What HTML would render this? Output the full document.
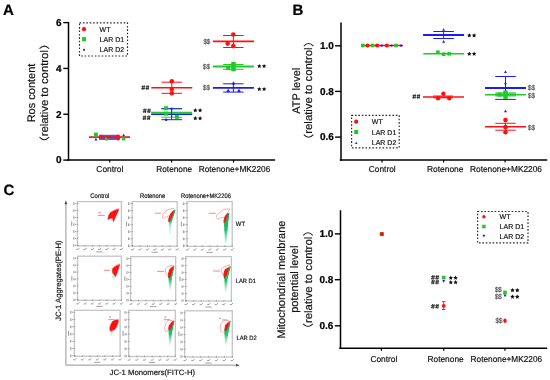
<!DOCTYPE html>
<html><head><meta charset="utf-8"><style>
html,body{margin:0;padding:0;background:#fff;width:550px;height:380px;overflow:hidden}
svg{display:block;font-family:"Liberation Sans",sans-serif;filter:blur(0.3px);text-rendering:geometricPrecision}
</style></head><body>
<svg width="550" height="380" viewBox="0 0 550 380">
<rect width="550" height="380" fill="#fff"/>
<text x="3" y="15.1" font-size="15" text-anchor="start" font-weight="700" fill="#000" stroke="#000" stroke-width="0.23399999999999999" >A</text>
<line x1="68.5" y1="22" x2="68.5" y2="160.7" stroke="#000" stroke-width="1.5" />
<line x1="67.8" y1="160.1" x2="274.5" y2="160.1" stroke="#000" stroke-width="1.5" stroke-linecap="round"/>
<line x1="63.3" y1="22.6" x2="68.5" y2="22.6" stroke="#000" stroke-width="1.4" />
<text x="61.5" y="25.950000000000003" font-size="10" text-anchor="end" font-weight="700" fill="#000" stroke="#000" stroke-width="0.23399999999999999" >6</text>
<line x1="63.3" y1="68.43" x2="68.5" y2="68.43" stroke="#000" stroke-width="1.4" />
<text x="61.5" y="71.78" font-size="10" text-anchor="end" font-weight="700" fill="#000" stroke="#000" stroke-width="0.23399999999999999" >4</text>
<line x1="63.3" y1="114.25999999999999" x2="68.5" y2="114.25999999999999" stroke="#000" stroke-width="1.4" />
<text x="61.5" y="117.60999999999999" font-size="10" text-anchor="end" font-weight="700" fill="#000" stroke="#000" stroke-width="0.23399999999999999" >2</text>
<line x1="63.3" y1="160.09" x2="68.5" y2="160.09" stroke="#000" stroke-width="1.4" />
<text x="61.5" y="163.44" font-size="10" text-anchor="end" font-weight="700" fill="#000" stroke="#000" stroke-width="0.23399999999999999" >0</text>
<line x1="109.7" y1="160" x2="109.7" y2="162.6" stroke="#000" stroke-width="1.2" />
<line x1="171.6" y1="160" x2="171.6" y2="162.6" stroke="#000" stroke-width="1.2" />
<line x1="233.5" y1="160" x2="233.5" y2="162.6" stroke="#000" stroke-width="1.2" />
<text x="109.85" y="172.2" font-size="8.6" text-anchor="middle" font-weight="400" fill="#111" textLength="27" lengthAdjust="spacingAndGlyphs" stroke="#111" stroke-width="0.18" >Control</text>
<text x="174.2" y="172.2" font-size="8.6" text-anchor="middle" font-weight="400" fill="#111" textLength="35.9" lengthAdjust="spacingAndGlyphs" stroke="#111" stroke-width="0.18" >Rotenone</text>
<text x="234.5" y="172.2" font-size="8.6" text-anchor="middle" font-weight="400" fill="#111" textLength="71.6" lengthAdjust="spacingAndGlyphs" stroke="#111" stroke-width="0.18" >Rotenone+MK2206</text>
<g transform="translate(34.8,93) rotate(-90)">
<text x="0" y="0" font-size="11" text-anchor="middle" font-weight="400" fill="#111" stroke="#111" stroke-width="0.18" >Ros content</text>
</g>
<g transform="translate(47.9,93.2) rotate(-90)">
<text x="0" y="0" font-size="11" text-anchor="middle" font-weight="400" fill="#111" textLength="86.2" lengthAdjust="spacingAndGlyphs" stroke="#111" stroke-width="0.18" >relative to control</text>
</g>
<path d="M39.5,48.7 Q44.3,43.5 49.099999999999994,48.7 M39.5,137.2 Q44.3,142.4 49.099999999999994,137.2" fill="none" stroke="#222" stroke-width="1.05"/>
<rect x="79.5" y="22.9" width="48.0" height="33.1" fill="none" stroke="#2a2a2a" stroke-width="1.2" stroke-dasharray="1.6,1.8"/>
<circle cx="84" cy="29.2" r="2.1" fill="#ff1010"/>
<text x="99.6" y="31.7" font-size="7" text-anchor="start" font-weight="400" fill="#111" stroke="#111" stroke-width="0.18" >WT</text>
<rect x="82.0" y="37.2" width="4" height="4" fill="#20c828"/>
<text x="99.6" y="41.7" font-size="7" text-anchor="start" font-weight="400" fill="#111" stroke="#111" stroke-width="0.18" >LAR D1</text>
<circle cx="84" cy="49.8" r="1.1" fill="#1a1aff"/>
<text x="99.6" y="52.3" font-size="7" text-anchor="start" font-weight="400" fill="#111" stroke="#111" stroke-width="0.18" >LAR D2</text>
<rect x="99.5" y="135.2" width="17.5" height="4.2" fill="#6a4ad0" stroke="#5a3cc8" stroke-width="0.8"/>
<line x1="89" y1="137.1" x2="99.5" y2="137.1" stroke="#ff1010" stroke-width="1.7" />
<line x1="117" y1="137.1" x2="130" y2="137.1" stroke="#ff1010" stroke-width="1.7" />
<line x1="99.5" y1="137.1" x2="117" y2="137.1" stroke="#e01830" stroke-width="1.7" />
<rect x="93.9" y="132.6" width="4" height="4" fill="#20c828"/>
<polygon points="94.4,140.54999999999998 97.4,140.54999999999998 95.9,137.85" fill="#1a1aff"/>
<rect x="105.0" y="136.79999999999998" width="3.6" height="3.6" fill="#20c828"/>
<rect x="121.8" y="136.79999999999998" width="3.6" height="3.6" fill="#20c828"/>
<polygon points="122.1,136.35 125.1,136.35 123.6,133.65" fill="#1a1aff"/>
<circle cx="101.4" cy="136.8" r="2" fill="#ff1010"/>
<ellipse cx="118.2" cy="137.4" rx="2" ry="3" fill="#ff1010"/>
<circle cx="108" cy="137" r="1.5" fill="#ff1010"/>
<line x1="151.3" y1="87.8" x2="192.3" y2="87.8" stroke="#ff1010" stroke-width="1.6" />
<line x1="161.55" y1="82.2" x2="182.05" y2="82.2" stroke="#ff1010" stroke-width="1.0" />
<line x1="161.55" y1="93.3" x2="182.05" y2="93.3" stroke="#ff1010" stroke-width="1.0" />
<line x1="171.8" y1="82.2" x2="171.8" y2="93.3" stroke="#ff1010" stroke-width="1.0" />
<circle cx="171.8" cy="81.2" r="2.3" fill="#ff1010"/>
<circle cx="171.8" cy="89.1" r="2.3" fill="#ff1010"/>
<circle cx="171.8" cy="93.2" r="2.3" fill="#ff1010"/>
<path d="M141.50,86.70h3.5M141.30,88.50h3.5M142.90,85.40L142.30,89.80M144.40,85.40L143.80,89.80M145.70,86.70h3.5M145.50,88.50h3.5M147.10,85.40L146.50,89.80M148.60,85.40L148.00,89.80" stroke="#333" stroke-width="0.95" fill="none"/>
<line x1="151.2" y1="112.8" x2="192.2" y2="112.8" stroke="#20c828" stroke-width="2.0" />
<line x1="161.45" y1="108.7" x2="181.95" y2="108.7" stroke="#20c828" stroke-width="1.0" />
<line x1="161.45" y1="117.2" x2="181.95" y2="117.2" stroke="#20c828" stroke-width="1.0" />
<line x1="171.7" y1="108.7" x2="171.7" y2="117.2" stroke="#20c828" stroke-width="1.0" />
<line x1="151.2" y1="114.4" x2="192.2" y2="114.4" stroke="#1a1aff" stroke-width="1.3" />
<line x1="161.4" y1="108.7" x2="182" y2="108.7" stroke="#1a1aff" stroke-width="1.0" />
<line x1="161.4" y1="119.7" x2="182" y2="119.7" stroke="#1a1aff" stroke-width="1.0" />
<line x1="171.6" y1="108.7" x2="171.6" y2="119.7" stroke="#1a1aff" stroke-width="1.0" />
<rect x="164.1" y="106.2" width="4" height="4" fill="#20c828"/>
<rect x="164.1" y="111.7" width="4" height="4" fill="#20c828"/>
<rect x="174.9" y="114.9" width="4" height="4" fill="#20c828"/>
<circle cx="171.6" cy="108.7" r="1.1" fill="#1a1aff"/>
<circle cx="166.1" cy="119.7" r="1.3" fill="#1a1aff"/>
<path d="M143.00,109.90h3.5M142.80,111.70h3.5M144.40,108.60L143.80,113.00M145.90,108.60L145.30,113.00M147.20,109.90h3.5M147.00,111.70h3.5M148.60,108.60L148.00,113.00M150.10,108.60L149.50,113.00" stroke="#333" stroke-width="0.95" fill="none"/>
<path d="M142.70,116.90h3.5M142.50,118.70h3.5M144.10,115.60L143.50,120.00M145.60,115.60L145.00,120.00M146.90,116.90h3.5M146.70,118.70h3.5M148.30,115.60L147.70,120.00M149.80,115.60L149.20,120.00" stroke="#333" stroke-width="0.95" fill="none"/>
<polygon points="195.30,108.10 195.98,109.47 197.49,109.69 196.39,110.76 196.65,112.26 195.30,111.55 193.95,112.26 194.21,110.76 193.11,109.69 194.62,109.47" fill="#111"/>
<polygon points="200.10,108.10 200.78,109.47 202.29,109.69 201.19,110.76 201.45,112.26 200.10,111.55 198.75,112.26 199.01,110.76 197.91,109.69 199.42,109.47" fill="#111"/>
<polygon points="195.30,116.10 195.98,117.47 197.49,117.69 196.39,118.76 196.65,120.26 195.30,119.55 193.95,120.26 194.21,118.76 193.11,117.69 194.62,117.47" fill="#111"/>
<polygon points="200.10,116.10 200.78,117.47 202.29,117.69 201.19,118.76 201.45,120.26 200.10,119.55 198.75,120.26 199.01,118.76 197.91,117.69 199.42,117.47" fill="#111"/>
<line x1="212.9" y1="41.4" x2="253.9" y2="41.4" stroke="#ff1010" stroke-width="1.6" />
<line x1="223.15" y1="35.5" x2="243.65" y2="35.5" stroke="#ff1010" stroke-width="1.0" />
<line x1="223.15" y1="47.5" x2="243.65" y2="47.5" stroke="#ff1010" stroke-width="1.0" />
<line x1="233.4" y1="35.5" x2="233.4" y2="47.5" stroke="#ff1010" stroke-width="1.0" />
<circle cx="233.3" cy="34.5" r="2.3" fill="#ff1010"/>
<circle cx="227.7" cy="43.6" r="2.3" fill="#ff1010"/>
<circle cx="233.3" cy="46.1" r="2.3" fill="#ff1010"/>
<text x="203.4" y="43.8" font-size="7" text-anchor="start" font-weight="400" fill="#444" textLength="6.9" lengthAdjust="spacingAndGlyphs" stroke="#444" stroke-width="0.18" >$$</text>
<line x1="212.9" y1="66.6" x2="253.9" y2="66.6" stroke="#20c828" stroke-width="2.0" />
<line x1="223.15" y1="64.5" x2="243.65" y2="64.5" stroke="#20c828" stroke-width="1.0" />
<line x1="223.15" y1="69.3" x2="243.65" y2="69.3" stroke="#20c828" stroke-width="1.0" />
<line x1="233.4" y1="64.5" x2="233.4" y2="69.3" stroke="#20c828" stroke-width="1.0" />
<rect x="226.2" y="65.8" width="4" height="4" fill="#20c828"/>
<rect x="231.25" y="61.95" width="4.5" height="4.5" fill="#20c828"/>
<rect x="231.25" y="66.75" width="4.5" height="4.5" fill="#20c828"/>
<text x="203" y="69.0" font-size="7" text-anchor="start" font-weight="400" fill="#444" textLength="6.9" lengthAdjust="spacingAndGlyphs" stroke="#444" stroke-width="0.18" >$$</text>
<polygon points="259.30,63.90 259.98,65.27 261.49,65.49 260.39,66.56 260.65,68.06 259.30,67.35 257.95,68.06 258.21,66.56 257.11,65.49 258.62,65.27" fill="#111"/>
<polygon points="264.10,63.90 264.78,65.27 266.29,65.49 265.19,66.56 265.45,68.06 264.10,67.35 262.75,68.06 263.01,66.56 261.91,65.49 263.42,65.27" fill="#111"/>
<line x1="212.9" y1="87.9" x2="253.9" y2="87.9" stroke="#1a1aff" stroke-width="1.8" />
<line x1="223.15" y1="83.8" x2="243.65" y2="83.8" stroke="#1a1aff" stroke-width="1.0" />
<line x1="223.15" y1="92.1" x2="243.65" y2="92.1" stroke="#1a1aff" stroke-width="1.0" />
<line x1="233.4" y1="83.8" x2="233.4" y2="92.1" stroke="#1a1aff" stroke-width="1.0" />
<polygon points="231.7,84.42 235.3,84.42 233.5,81.17999999999999" fill="#1a1aff"/>
<polygon points="226.29999999999998,92.11 230.1,92.11 228.2,88.69000000000001" fill="#1a1aff"/>
<polygon points="237.1,92.11 240.9,92.11 239,88.69000000000001" fill="#1a1aff"/>
<text x="203" y="90.30000000000001" font-size="7" text-anchor="start" font-weight="400" fill="#444" textLength="6.9" lengthAdjust="spacingAndGlyphs" stroke="#444" stroke-width="0.18" >$$</text>
<polygon points="259.30,86.90 259.98,88.27 261.49,88.49 260.39,89.56 260.65,91.06 259.30,90.35 257.95,91.06 258.21,89.56 257.11,88.49 258.62,88.27" fill="#111"/>
<polygon points="264.10,86.90 264.78,88.27 266.29,88.49 265.19,89.56 265.45,91.06 264.10,90.35 262.75,91.06 263.01,89.56 261.91,88.49 263.42,88.27" fill="#111"/>
<text x="292.6" y="15.1" font-size="15" text-anchor="start" font-weight="700" fill="#000" stroke="#000" stroke-width="0.23399999999999999" >B</text>
<line x1="341" y1="22.4" x2="341" y2="160.7" stroke="#000" stroke-width="1.5" />
<line x1="340.3" y1="159.9" x2="546.6" y2="159.9" stroke="#000" stroke-width="1.5" stroke-linecap="round"/>
<line x1="335.1" y1="45.8" x2="341" y2="45.8" stroke="#000" stroke-width="1.4" />
<text x="333.8" y="49.15" font-size="10" text-anchor="end" font-weight="700" fill="#000" stroke="#000" stroke-width="0.23399999999999999" >1.0</text>
<line x1="335.1" y1="91.4" x2="341" y2="91.4" stroke="#000" stroke-width="1.4" />
<text x="333.8" y="94.75" font-size="10" text-anchor="end" font-weight="700" fill="#000" stroke="#000" stroke-width="0.23399999999999999" >0.8</text>
<line x1="335.1" y1="137.1" x2="341" y2="137.1" stroke="#000" stroke-width="1.4" />
<text x="333.8" y="140.45" font-size="10" text-anchor="end" font-weight="700" fill="#000" stroke="#000" stroke-width="0.23399999999999999" >0.6</text>
<line x1="382" y1="160" x2="382" y2="162.6" stroke="#000" stroke-width="1.2" />
<line x1="443.6" y1="160" x2="443.6" y2="162.6" stroke="#000" stroke-width="1.2" />
<line x1="505.1" y1="160" x2="505.1" y2="162.6" stroke="#000" stroke-width="1.2" />
<text x="382.2" y="172.2" font-size="8.6" text-anchor="middle" font-weight="400" fill="#111" textLength="27" lengthAdjust="spacingAndGlyphs" stroke="#111" stroke-width="0.18" >Control</text>
<text x="445.2" y="172.2" font-size="8.6" text-anchor="middle" font-weight="400" fill="#111" textLength="36.5" lengthAdjust="spacingAndGlyphs" stroke="#111" stroke-width="0.18" >Rotenone</text>
<text x="506" y="172.2" font-size="8.6" text-anchor="middle" font-weight="400" fill="#111" textLength="72" lengthAdjust="spacingAndGlyphs" stroke="#111" stroke-width="0.18" >Rotenone+MK2206</text>
<g transform="translate(299.8,90.8) rotate(-90)">
<text x="0" y="0" font-size="11" text-anchor="middle" font-weight="400" fill="#111" stroke="#111" stroke-width="0.18" >ATP level</text>
</g>
<g transform="translate(312.2,90.6) rotate(-90)">
<text x="0" y="0" font-size="11" text-anchor="middle" font-weight="400" fill="#111" textLength="86.2" lengthAdjust="spacingAndGlyphs" stroke="#111" stroke-width="0.18" >relative to control</text>
</g>
<path d="M303.79999999999995,46.099999999999994 Q308.59999999999997,40.89999999999999 313.4,46.099999999999994 M303.79999999999995,134.6 Q308.59999999999997,139.8 313.4,134.6" fill="none" stroke="#222" stroke-width="1.05"/>
<rect x="351.6" y="115.3" width="47.599999999999966" height="32.500000000000014" fill="none" stroke="#2a2a2a" stroke-width="1.2" stroke-dasharray="1.6,1.8"/>
<circle cx="356.2" cy="121.7" r="2.1" fill="#ff1010"/>
<text x="371.8" y="124.2" font-size="7" text-anchor="start" font-weight="400" fill="#111" stroke="#111" stroke-width="0.18" >WT</text>
<rect x="354.2" y="130.0" width="4" height="4" fill="#20c828"/>
<text x="371.8" y="134.5" font-size="7" text-anchor="start" font-weight="400" fill="#111" stroke="#111" stroke-width="0.18" >LAR D1</text>
<polygon points="354.9,143.97 357.5,143.97 356.2,141.63000000000002" fill="#1a1aff"/>
<text x="371.8" y="145.3" font-size="7" text-anchor="start" font-weight="400" fill="#111" stroke="#111" stroke-width="0.18" >LAR D2</text>
<line x1="361" y1="45.5" x2="403" y2="45.5" stroke="#ff1010" stroke-width="1.5" />
<rect x="361.0" y="43.7" width="3.6" height="3.6" fill="#20c828"/>
<rect x="370.7" y="43.7" width="3.6" height="3.6" fill="#20c828"/>
<rect x="394.2" y="43.7" width="3.6" height="3.6" fill="#20c828"/>
<circle cx="367.5" cy="45.5" r="2.1" fill="#ff1010"/>
<circle cx="377.2" cy="45.5" r="2.1" fill="#ff1010"/>
<circle cx="386.8" cy="45.5" r="2.1" fill="#ff1010"/>
<circle cx="381.8" cy="45.6" r="1.2" fill="#1a1aff"/>
<circle cx="391.5" cy="45.6" r="1.2" fill="#1a1aff"/>
<circle cx="401" cy="45.6" r="1.2" fill="#1a1aff"/>
<line x1="423.1" y1="35" x2="464.1" y2="35" stroke="#1a1aff" stroke-width="2.0" />
<line x1="433.35" y1="31.5" x2="453.85" y2="31.5" stroke="#1a1aff" stroke-width="1.0" />
<line x1="433.35" y1="38.5" x2="453.85" y2="38.5" stroke="#1a1aff" stroke-width="1.0" />
<line x1="443.6" y1="31.5" x2="443.6" y2="38.5" stroke="#1a1aff" stroke-width="1.0" />
<polygon points="442.1,30.85 445.1,30.85 443.6,28.15" fill="#1a1aff"/>
<polygon points="442.1,42.75 445.1,42.75 443.6,40.05" fill="#1a1aff"/>
<polygon points="469.30,33.20 469.98,34.57 471.49,34.79 470.39,35.86 470.65,37.36 469.30,36.65 467.95,37.36 468.21,35.86 467.11,34.79 468.62,34.57" fill="#111"/>
<polygon points="474.10,33.20 474.78,34.57 476.29,34.79 475.19,35.86 475.45,37.36 474.10,36.65 472.75,37.36 473.01,35.86 471.91,34.79 473.42,34.57" fill="#111"/>
<line x1="423.3" y1="53.7" x2="464" y2="53.7" stroke="#20c828" stroke-width="1.5" />
<rect x="436.09999999999997" y="50.400000000000006" width="3.6" height="3.6" fill="#20c828"/>
<rect x="441.8" y="52.400000000000006" width="3.6" height="3.6" fill="#20c828"/>
<rect x="447.3" y="52.0" width="3.6" height="3.6" fill="#20c828"/>
<polygon points="469.30,51.60 469.98,52.97 471.49,53.19 470.39,54.26 470.65,55.76 469.30,55.05 467.95,55.76 468.21,54.26 467.11,53.19 468.62,52.97" fill="#111"/>
<polygon points="474.10,51.60 474.78,52.97 476.29,53.19 475.19,54.26 475.45,55.76 474.10,55.05 472.75,55.76 473.01,54.26 471.91,53.19 473.42,52.97" fill="#111"/>
<line x1="423" y1="96.9" x2="464" y2="96.9" stroke="#ff1010" stroke-width="1.5" />
<line x1="433" y1="96" x2="453" y2="96" stroke="#ff1010" stroke-width="1.0" />
<line x1="433" y1="97.8" x2="453" y2="97.8" stroke="#ff1010" stroke-width="1.0" />
<circle cx="438.1" cy="98.3" r="2.2" fill="#ff1010"/>
<circle cx="443.4" cy="93.8" r="2.2" fill="#ff1010"/>
<circle cx="449.3" cy="98.3" r="2.2" fill="#ff1010"/>
<path d="M412.50,95.60h3.5M412.30,97.40h3.5M413.90,94.30L413.30,98.70M415.40,94.30L414.80,98.70M416.70,95.60h3.5M416.50,97.40h3.5M418.10,94.30L417.50,98.70M419.60,94.30L419.00,98.70" stroke="#333" stroke-width="0.95" fill="none"/>
<line x1="485.0" y1="87.9" x2="526.0" y2="87.9" stroke="#1a1aff" stroke-width="2.0" />
<line x1="495.25" y1="76.5" x2="515.75" y2="76.5" stroke="#1a1aff" stroke-width="1.0" />
<line x1="495.25" y1="99.4" x2="515.75" y2="99.4" stroke="#1a1aff" stroke-width="1.0" />
<line x1="505.5" y1="76.5" x2="505.5" y2="99.4" stroke="#1a1aff" stroke-width="1.0" />
<polygon points="504.0,72.94999999999999 507.0,72.94999999999999 505.5,70.25" fill="#1a1aff"/>
<polygon points="504.0,84.14999999999999 507.0,84.14999999999999 505.5,81.45" fill="#1a1aff"/>
<polygon points="504.0,112.14999999999999 507.0,112.14999999999999 505.5,109.45" fill="#1a1aff"/>
<line x1="485.1" y1="94.7" x2="525.8" y2="94.7" stroke="#20c828" stroke-width="1.5" />
<rect x="495.3" y="92.2" width="20.6" height="4.4" fill="#20c828" opacity="0.75"/>
<rect x="497.8" y="92.8" width="3.8" height="3.8" fill="#20c828"/>
<rect x="503.3" y="90.5" width="4.4" height="8.4" fill="#20c828"/>
<text x="528.1" y="90.30000000000001" font-size="7" text-anchor="start" font-weight="400" fill="#444" textLength="6.9" lengthAdjust="spacingAndGlyphs" stroke="#444" stroke-width="0.18" >$$</text>
<text x="528.1" y="97.9" font-size="7" text-anchor="start" font-weight="400" fill="#444" textLength="6.9" lengthAdjust="spacingAndGlyphs" stroke="#444" stroke-width="0.18" >$$</text>
<line x1="485.0" y1="126.7" x2="526.0" y2="126.7" stroke="#ff1010" stroke-width="1.6" />
<line x1="495.25" y1="123.3" x2="515.75" y2="123.3" stroke="#ff1010" stroke-width="1.0" />
<line x1="495.25" y1="130.2" x2="515.75" y2="130.2" stroke="#ff1010" stroke-width="1.0" />
<line x1="505.5" y1="123.3" x2="505.5" y2="130.2" stroke="#ff1010" stroke-width="1.0" />
<circle cx="505.5" cy="120.1" r="2.3" fill="#ff1010"/>
<circle cx="505.5" cy="127.1" r="2.3" fill="#ff1010"/>
<circle cx="505.5" cy="132.2" r="2.3" fill="#ff1010"/>
<text x="528" y="129.8" font-size="7" text-anchor="start" font-weight="400" fill="#444" textLength="6.9" lengthAdjust="spacingAndGlyphs" stroke="#444" stroke-width="0.18" >$$</text>
<text x="3.6" y="194.9" font-size="15" text-anchor="start" font-weight="700" fill="#000" stroke="#000" stroke-width="0.23399999999999999" >C</text>
<line x1="65.9" y1="202.5" x2="65.9" y2="365.2" stroke="#a8a8a8" stroke-width="1.2" />
<polygon points="64.4,204.2 67.4,204.2 65.9,200.2" fill="#555"/>
<line x1="65.9" y1="365.2" x2="237" y2="365.2" stroke="#a8a8a8" stroke-width="1.2" />
<polygon points="236,363.7 236,366.7 239.6,365.2" fill="#555"/>
<text x="152.3" y="375.4" font-size="7.7" text-anchor="middle" font-weight="400" fill="#111" textLength="85.5" lengthAdjust="spacingAndGlyphs" stroke="#111" stroke-width="0.18" >JC-1 Monomers(FITC-H)</text>
<g transform="translate(61.2,280.6) rotate(-90)">
<text x="0" y="0" font-size="7.7" text-anchor="middle" font-weight="400" fill="#111" textLength="80.5" lengthAdjust="spacingAndGlyphs" stroke="#111" stroke-width="0.18" >JC-1 Aggregates(PE-H)</text>
</g>
<text x="99.85" y="198.1" font-size="6.6" text-anchor="middle" font-weight="400" fill="#111" textLength="19" lengthAdjust="spacingAndGlyphs" stroke="#111" stroke-width="0.18" >Control</text>
<text x="152.7" y="198.1" font-size="6.6" text-anchor="middle" font-weight="400" fill="#111" textLength="25.3" lengthAdjust="spacingAndGlyphs" stroke="#111" stroke-width="0.18" >Rotenone</text>
<text x="206" y="198.1" font-size="6.6" text-anchor="middle" font-weight="400" fill="#111" textLength="49.8" lengthAdjust="spacingAndGlyphs" stroke="#111" stroke-width="0.18" >Rotenone+MK2206</text>
<text x="235.8" y="226.3" font-size="6.3" text-anchor="start" font-weight="400" fill="#111" textLength="9.2" lengthAdjust="spacingAndGlyphs" stroke="#111" stroke-width="0.18" >WT</text>
<text x="235.7" y="282.7" font-size="6.3" text-anchor="start" font-weight="400" fill="#111" textLength="20.3" lengthAdjust="spacingAndGlyphs" stroke="#111" stroke-width="0.18" >LAR D1</text>
<text x="236.5" y="340.4" font-size="6.3" text-anchor="start" font-weight="400" fill="#111" textLength="20.2" lengthAdjust="spacingAndGlyphs" stroke="#111" stroke-width="0.18" >LAR D2</text>
<rect x="77.4" y="201.6" width="44.0" height="44.20000000000002" fill="#fff" stroke="#c4c4c4" stroke-width="1.3"/>
<line x1="76.60000000000001" y1="203.6" x2="78.4" y2="203.6" stroke="#777" stroke-width="0.5" />
<path d="M73.80000000000001,202.4 v2.6 M74.80000000000001,203.0 l0.8,0.6 l-0.8,0.8" stroke="#666" stroke-width="0.65" fill="none"/>
<line x1="76.60000000000001" y1="210.55" x2="78.4" y2="210.55" stroke="#777" stroke-width="0.5" />
<path d="M73.80000000000001,209.35000000000002 v2.6 M74.80000000000001,209.95000000000002 l0.8,0.6 l-0.8,0.8" stroke="#666" stroke-width="0.65" fill="none"/>
<line x1="76.60000000000001" y1="217.5" x2="78.4" y2="217.5" stroke="#777" stroke-width="0.5" />
<path d="M73.80000000000001,216.3 v2.6 M74.80000000000001,216.9 l0.8,0.6 l-0.8,0.8" stroke="#666" stroke-width="0.65" fill="none"/>
<line x1="76.60000000000001" y1="224.45" x2="78.4" y2="224.45" stroke="#777" stroke-width="0.5" />
<path d="M73.80000000000001,223.25 v2.6 M74.80000000000001,223.85 l0.8,0.6 l-0.8,0.8" stroke="#666" stroke-width="0.65" fill="none"/>
<line x1="76.60000000000001" y1="231.4" x2="78.4" y2="231.4" stroke="#777" stroke-width="0.5" />
<path d="M73.80000000000001,230.20000000000002 v2.6 M74.80000000000001,230.8 l0.8,0.6 l-0.8,0.8" stroke="#666" stroke-width="0.65" fill="none"/>
<line x1="76.60000000000001" y1="238.35000000000002" x2="78.4" y2="238.35000000000002" stroke="#777" stroke-width="0.5" />
<path d="M73.80000000000001,237.15000000000003 v2.6 M74.80000000000001,237.75000000000003 l0.8,0.6 l-0.8,0.8" stroke="#666" stroke-width="0.65" fill="none"/>
<line x1="76.60000000000001" y1="245.3" x2="78.4" y2="245.3" stroke="#777" stroke-width="0.5" />
<path d="M73.80000000000001,244.10000000000002 v2.6 M74.80000000000001,244.70000000000002 l0.8,0.6 l-0.8,0.8" stroke="#666" stroke-width="0.65" fill="none"/>
<line x1="77.9" y1="244.8" x2="77.9" y2="246.60000000000002" stroke="#777" stroke-width="0.5" />
<path d="M76.30000000000001,249.4 h2.2 M78.5,249.0 l0.8,-1.1" stroke="#666" stroke-width="0.65" fill="none"/>
<line x1="85.15" y1="244.8" x2="85.15" y2="246.60000000000002" stroke="#777" stroke-width="0.5" />
<path d="M83.55000000000001,249.4 h2.2 M85.75,249.0 l0.8,-1.1" stroke="#666" stroke-width="0.65" fill="none"/>
<line x1="92.4" y1="244.8" x2="92.4" y2="246.60000000000002" stroke="#777" stroke-width="0.5" />
<path d="M90.80000000000001,249.4 h2.2 M93.0,249.0 l0.8,-1.1" stroke="#666" stroke-width="0.65" fill="none"/>
<line x1="99.65" y1="244.8" x2="99.65" y2="246.60000000000002" stroke="#777" stroke-width="0.5" />
<path d="M98.05000000000001,249.4 h2.2 M100.25,249.0 l0.8,-1.1" stroke="#666" stroke-width="0.65" fill="none"/>
<line x1="106.9" y1="244.8" x2="106.9" y2="246.60000000000002" stroke="#777" stroke-width="0.5" />
<path d="M105.30000000000001,249.4 h2.2 M107.5,249.0 l0.8,-1.1" stroke="#666" stroke-width="0.65" fill="none"/>
<line x1="114.15" y1="244.8" x2="114.15" y2="246.60000000000002" stroke="#777" stroke-width="0.5" />
<path d="M112.55000000000001,249.4 h2.2 M114.75,249.0 l0.8,-1.1" stroke="#666" stroke-width="0.65" fill="none"/>
<line x1="121.4" y1="244.8" x2="121.4" y2="246.60000000000002" stroke="#777" stroke-width="0.5" />
<path d="M119.80000000000001,249.4 h2.2 M122.0,249.0 l0.8,-1.1" stroke="#666" stroke-width="0.65" fill="none"/>
<rect x="96.2" y="251.4" width="6.4" height="0.9" fill="#999"/>
<rect x="71.2" y="221.29999999999998" width="1" height="4.8" fill="#999"/>
<rect x="132.1" y="201.6" width="45.099999999999994" height="44.599999999999994" fill="#fff" stroke="#c4c4c4" stroke-width="1.3"/>
<line x1="131.29999999999998" y1="203.6" x2="133.1" y2="203.6" stroke="#777" stroke-width="0.5" />
<path d="M128.5,202.4 v2.6 M129.5,203.0 l0.8,0.6 l-0.8,0.8" stroke="#666" stroke-width="0.65" fill="none"/>
<line x1="131.29999999999998" y1="210.61666666666667" x2="133.1" y2="210.61666666666667" stroke="#777" stroke-width="0.5" />
<path d="M128.5,209.41666666666669 v2.6 M129.5,210.01666666666668 l0.8,0.6 l-0.8,0.8" stroke="#666" stroke-width="0.65" fill="none"/>
<line x1="131.29999999999998" y1="217.63333333333333" x2="133.1" y2="217.63333333333333" stroke="#777" stroke-width="0.5" />
<path d="M128.5,216.43333333333334 v2.6 M129.5,217.03333333333333 l0.8,0.6 l-0.8,0.8" stroke="#666" stroke-width="0.65" fill="none"/>
<line x1="131.29999999999998" y1="224.64999999999998" x2="133.1" y2="224.64999999999998" stroke="#777" stroke-width="0.5" />
<path d="M128.5,223.45 v2.6 M129.5,224.04999999999998 l0.8,0.6 l-0.8,0.8" stroke="#666" stroke-width="0.65" fill="none"/>
<line x1="131.29999999999998" y1="231.66666666666666" x2="133.1" y2="231.66666666666666" stroke="#777" stroke-width="0.5" />
<path d="M128.5,230.46666666666667 v2.6 M129.5,231.06666666666666 l0.8,0.6 l-0.8,0.8" stroke="#666" stroke-width="0.65" fill="none"/>
<line x1="131.29999999999998" y1="238.68333333333334" x2="133.1" y2="238.68333333333334" stroke="#777" stroke-width="0.5" />
<path d="M128.5,237.48333333333335 v2.6 M129.5,238.08333333333334 l0.8,0.6 l-0.8,0.8" stroke="#666" stroke-width="0.65" fill="none"/>
<line x1="131.29999999999998" y1="245.7" x2="133.1" y2="245.7" stroke="#777" stroke-width="0.5" />
<path d="M128.5,244.5 v2.6 M129.5,245.1 l0.8,0.6 l-0.8,0.8" stroke="#666" stroke-width="0.65" fill="none"/>
<line x1="132.6" y1="245.2" x2="132.6" y2="247.0" stroke="#777" stroke-width="0.5" />
<path d="M131.0,249.79999999999998 h2.2 M133.2,249.39999999999998 l0.8,-1.1" stroke="#666" stroke-width="0.65" fill="none"/>
<line x1="140.03333333333333" y1="245.2" x2="140.03333333333333" y2="247.0" stroke="#777" stroke-width="0.5" />
<path d="M138.43333333333334,249.79999999999998 h2.2 M140.63333333333333,249.39999999999998 l0.8,-1.1" stroke="#666" stroke-width="0.65" fill="none"/>
<line x1="147.46666666666667" y1="245.2" x2="147.46666666666667" y2="247.0" stroke="#777" stroke-width="0.5" />
<path d="M145.86666666666667,249.79999999999998 h2.2 M148.06666666666666,249.39999999999998 l0.8,-1.1" stroke="#666" stroke-width="0.65" fill="none"/>
<line x1="154.89999999999998" y1="245.2" x2="154.89999999999998" y2="247.0" stroke="#777" stroke-width="0.5" />
<path d="M153.29999999999998,249.79999999999998 h2.2 M155.49999999999997,249.39999999999998 l0.8,-1.1" stroke="#666" stroke-width="0.65" fill="none"/>
<line x1="162.33333333333331" y1="245.2" x2="162.33333333333331" y2="247.0" stroke="#777" stroke-width="0.5" />
<path d="M160.73333333333332,249.79999999999998 h2.2 M162.9333333333333,249.39999999999998 l0.8,-1.1" stroke="#666" stroke-width="0.65" fill="none"/>
<line x1="169.76666666666665" y1="245.2" x2="169.76666666666665" y2="247.0" stroke="#777" stroke-width="0.5" />
<path d="M168.16666666666666,249.79999999999998 h2.2 M170.36666666666665,249.39999999999998 l0.8,-1.1" stroke="#666" stroke-width="0.65" fill="none"/>
<line x1="177.2" y1="245.2" x2="177.2" y2="247.0" stroke="#777" stroke-width="0.5" />
<path d="M175.6,249.79999999999998 h2.2 M177.79999999999998,249.39999999999998 l0.8,-1.1" stroke="#666" stroke-width="0.65" fill="none"/>
<rect x="151.45" y="251.79999999999998" width="6.4" height="0.9" fill="#999"/>
<rect x="125.89999999999999" y="221.49999999999997" width="1" height="4.8" fill="#999"/>
<rect x="187" y="201.6" width="45.19999999999999" height="44.70000000000002" fill="#fff" stroke="#c4c4c4" stroke-width="1.3"/>
<line x1="186.2" y1="203.6" x2="188" y2="203.6" stroke="#777" stroke-width="0.5" />
<path d="M183.4,202.4 v2.6 M184.4,203.0 l0.8,0.6 l-0.8,0.8" stroke="#666" stroke-width="0.65" fill="none"/>
<line x1="186.2" y1="210.63333333333333" x2="188" y2="210.63333333333333" stroke="#777" stroke-width="0.5" />
<path d="M183.4,209.43333333333334 v2.6 M184.4,210.03333333333333 l0.8,0.6 l-0.8,0.8" stroke="#666" stroke-width="0.65" fill="none"/>
<line x1="186.2" y1="217.66666666666666" x2="188" y2="217.66666666666666" stroke="#777" stroke-width="0.5" />
<path d="M183.4,216.46666666666667 v2.6 M184.4,217.06666666666666 l0.8,0.6 l-0.8,0.8" stroke="#666" stroke-width="0.65" fill="none"/>
<line x1="186.2" y1="224.7" x2="188" y2="224.7" stroke="#777" stroke-width="0.5" />
<path d="M183.4,223.5 v2.6 M184.4,224.1 l0.8,0.6 l-0.8,0.8" stroke="#666" stroke-width="0.65" fill="none"/>
<line x1="186.2" y1="231.73333333333335" x2="188" y2="231.73333333333335" stroke="#777" stroke-width="0.5" />
<path d="M183.4,230.53333333333336 v2.6 M184.4,231.13333333333335 l0.8,0.6 l-0.8,0.8" stroke="#666" stroke-width="0.65" fill="none"/>
<line x1="186.2" y1="238.76666666666668" x2="188" y2="238.76666666666668" stroke="#777" stroke-width="0.5" />
<path d="M183.4,237.5666666666667 v2.6 M184.4,238.16666666666669 l0.8,0.6 l-0.8,0.8" stroke="#666" stroke-width="0.65" fill="none"/>
<line x1="186.2" y1="245.8" x2="188" y2="245.8" stroke="#777" stroke-width="0.5" />
<path d="M183.4,244.60000000000002 v2.6 M184.4,245.20000000000002 l0.8,0.6 l-0.8,0.8" stroke="#666" stroke-width="0.65" fill="none"/>
<line x1="187.5" y1="245.3" x2="187.5" y2="247.10000000000002" stroke="#777" stroke-width="0.5" />
<path d="M185.9,249.9 h2.2 M188.1,249.5 l0.8,-1.1" stroke="#666" stroke-width="0.65" fill="none"/>
<line x1="194.95" y1="245.3" x2="194.95" y2="247.10000000000002" stroke="#777" stroke-width="0.5" />
<path d="M193.35,249.9 h2.2 M195.54999999999998,249.5 l0.8,-1.1" stroke="#666" stroke-width="0.65" fill="none"/>
<line x1="202.4" y1="245.3" x2="202.4" y2="247.10000000000002" stroke="#777" stroke-width="0.5" />
<path d="M200.8,249.9 h2.2 M203.0,249.5 l0.8,-1.1" stroke="#666" stroke-width="0.65" fill="none"/>
<line x1="209.85" y1="245.3" x2="209.85" y2="247.10000000000002" stroke="#777" stroke-width="0.5" />
<path d="M208.25,249.9 h2.2 M210.45,249.5 l0.8,-1.1" stroke="#666" stroke-width="0.65" fill="none"/>
<line x1="217.29999999999998" y1="245.3" x2="217.29999999999998" y2="247.10000000000002" stroke="#777" stroke-width="0.5" />
<path d="M215.7,249.9 h2.2 M217.89999999999998,249.5 l0.8,-1.1" stroke="#666" stroke-width="0.65" fill="none"/>
<line x1="224.75" y1="245.3" x2="224.75" y2="247.10000000000002" stroke="#777" stroke-width="0.5" />
<path d="M223.15,249.9 h2.2 M225.35,249.5 l0.8,-1.1" stroke="#666" stroke-width="0.65" fill="none"/>
<line x1="232.2" y1="245.3" x2="232.2" y2="247.10000000000002" stroke="#777" stroke-width="0.5" />
<path d="M230.6,249.9 h2.2 M232.79999999999998,249.5 l0.8,-1.1" stroke="#666" stroke-width="0.65" fill="none"/>
<rect x="206.4" y="251.9" width="6.4" height="0.9" fill="#999"/>
<rect x="180.8" y="221.54999999999998" width="1" height="4.8" fill="#999"/>
<rect x="77.5" y="256.2" width="43.900000000000006" height="44.10000000000002" fill="#fff" stroke="#c4c4c4" stroke-width="1.3"/>
<line x1="76.7" y1="258.2" x2="78.5" y2="258.2" stroke="#777" stroke-width="0.5" />
<path d="M73.9,257.0 v2.6 M74.9,257.59999999999997 l0.8,0.6 l-0.8,0.8" stroke="#666" stroke-width="0.65" fill="none"/>
<line x1="76.7" y1="265.1333333333333" x2="78.5" y2="265.1333333333333" stroke="#777" stroke-width="0.5" />
<path d="M73.9,263.93333333333334 v2.6 M74.9,264.5333333333333 l0.8,0.6 l-0.8,0.8" stroke="#666" stroke-width="0.65" fill="none"/>
<line x1="76.7" y1="272.06666666666666" x2="78.5" y2="272.06666666666666" stroke="#777" stroke-width="0.5" />
<path d="M73.9,270.8666666666667 v2.6 M74.9,271.46666666666664 l0.8,0.6 l-0.8,0.8" stroke="#666" stroke-width="0.65" fill="none"/>
<line x1="76.7" y1="279.0" x2="78.5" y2="279.0" stroke="#777" stroke-width="0.5" />
<path d="M73.9,277.8 v2.6 M74.9,278.4 l0.8,0.6 l-0.8,0.8" stroke="#666" stroke-width="0.65" fill="none"/>
<line x1="76.7" y1="285.93333333333334" x2="78.5" y2="285.93333333333334" stroke="#777" stroke-width="0.5" />
<path d="M73.9,284.73333333333335 v2.6 M74.9,285.3333333333333 l0.8,0.6 l-0.8,0.8" stroke="#666" stroke-width="0.65" fill="none"/>
<line x1="76.7" y1="292.8666666666667" x2="78.5" y2="292.8666666666667" stroke="#777" stroke-width="0.5" />
<path d="M73.9,291.6666666666667 v2.6 M74.9,292.26666666666665 l0.8,0.6 l-0.8,0.8" stroke="#666" stroke-width="0.65" fill="none"/>
<line x1="76.7" y1="299.8" x2="78.5" y2="299.8" stroke="#777" stroke-width="0.5" />
<path d="M73.9,298.6 v2.6 M74.9,299.2 l0.8,0.6 l-0.8,0.8" stroke="#666" stroke-width="0.65" fill="none"/>
<line x1="78.0" y1="299.3" x2="78.0" y2="301.1" stroke="#777" stroke-width="0.5" />
<path d="M76.4,303.90000000000003 h2.2 M78.6,303.5 l0.8,-1.1" stroke="#666" stroke-width="0.65" fill="none"/>
<line x1="85.23333333333333" y1="299.3" x2="85.23333333333333" y2="301.1" stroke="#777" stroke-width="0.5" />
<path d="M83.63333333333334,303.90000000000003 h2.2 M85.83333333333333,303.5 l0.8,-1.1" stroke="#666" stroke-width="0.65" fill="none"/>
<line x1="92.46666666666667" y1="299.3" x2="92.46666666666667" y2="301.1" stroke="#777" stroke-width="0.5" />
<path d="M90.86666666666667,303.90000000000003 h2.2 M93.06666666666666,303.5 l0.8,-1.1" stroke="#666" stroke-width="0.65" fill="none"/>
<line x1="99.7" y1="299.3" x2="99.7" y2="301.1" stroke="#777" stroke-width="0.5" />
<path d="M98.10000000000001,303.90000000000003 h2.2 M100.3,303.5 l0.8,-1.1" stroke="#666" stroke-width="0.65" fill="none"/>
<line x1="106.93333333333334" y1="299.3" x2="106.93333333333334" y2="301.1" stroke="#777" stroke-width="0.5" />
<path d="M105.33333333333334,303.90000000000003 h2.2 M107.53333333333333,303.5 l0.8,-1.1" stroke="#666" stroke-width="0.65" fill="none"/>
<line x1="114.16666666666667" y1="299.3" x2="114.16666666666667" y2="301.1" stroke="#777" stroke-width="0.5" />
<path d="M112.56666666666668,303.90000000000003 h2.2 M114.76666666666667,303.5 l0.8,-1.1" stroke="#666" stroke-width="0.65" fill="none"/>
<line x1="121.4" y1="299.3" x2="121.4" y2="301.1" stroke="#777" stroke-width="0.5" />
<path d="M119.80000000000001,303.90000000000003 h2.2 M122.0,303.5 l0.8,-1.1" stroke="#666" stroke-width="0.65" fill="none"/>
<rect x="96.25" y="305.90000000000003" width="6.4" height="0.9" fill="#999"/>
<rect x="71.3" y="275.85" width="1" height="4.8" fill="#999"/>
<rect x="130.6" y="256.6" width="45.099999999999994" height="44.0" fill="#fff" stroke="#c4c4c4" stroke-width="1.3"/>
<line x1="129.79999999999998" y1="258.6" x2="131.6" y2="258.6" stroke="#777" stroke-width="0.5" />
<path d="M127.0,257.40000000000003 v2.6 M128.0,258.0 l0.8,0.6 l-0.8,0.8" stroke="#666" stroke-width="0.65" fill="none"/>
<line x1="129.79999999999998" y1="265.5166666666667" x2="131.6" y2="265.5166666666667" stroke="#777" stroke-width="0.5" />
<path d="M127.0,264.3166666666667 v2.6 M128.0,264.9166666666667 l0.8,0.6 l-0.8,0.8" stroke="#666" stroke-width="0.65" fill="none"/>
<line x1="129.79999999999998" y1="272.43333333333334" x2="131.6" y2="272.43333333333334" stroke="#777" stroke-width="0.5" />
<path d="M127.0,271.23333333333335 v2.6 M128.0,271.8333333333333 l0.8,0.6 l-0.8,0.8" stroke="#666" stroke-width="0.65" fill="none"/>
<line x1="129.79999999999998" y1="279.35" x2="131.6" y2="279.35" stroke="#777" stroke-width="0.5" />
<path d="M127.0,278.15000000000003 v2.6 M128.0,278.75 l0.8,0.6 l-0.8,0.8" stroke="#666" stroke-width="0.65" fill="none"/>
<line x1="129.79999999999998" y1="286.2666666666667" x2="131.6" y2="286.2666666666667" stroke="#777" stroke-width="0.5" />
<path d="M127.0,285.0666666666667 v2.6 M128.0,285.6666666666667 l0.8,0.6 l-0.8,0.8" stroke="#666" stroke-width="0.65" fill="none"/>
<line x1="129.79999999999998" y1="293.18333333333334" x2="131.6" y2="293.18333333333334" stroke="#777" stroke-width="0.5" />
<path d="M127.0,291.98333333333335 v2.6 M128.0,292.5833333333333 l0.8,0.6 l-0.8,0.8" stroke="#666" stroke-width="0.65" fill="none"/>
<line x1="129.79999999999998" y1="300.1" x2="131.6" y2="300.1" stroke="#777" stroke-width="0.5" />
<path d="M127.0,298.90000000000003 v2.6 M128.0,299.5 l0.8,0.6 l-0.8,0.8" stroke="#666" stroke-width="0.65" fill="none"/>
<line x1="131.1" y1="299.6" x2="131.1" y2="301.40000000000003" stroke="#777" stroke-width="0.5" />
<path d="M129.5,304.20000000000005 h2.2 M131.7,303.8 l0.8,-1.1" stroke="#666" stroke-width="0.65" fill="none"/>
<line x1="138.53333333333333" y1="299.6" x2="138.53333333333333" y2="301.40000000000003" stroke="#777" stroke-width="0.5" />
<path d="M136.93333333333334,304.20000000000005 h2.2 M139.13333333333333,303.8 l0.8,-1.1" stroke="#666" stroke-width="0.65" fill="none"/>
<line x1="145.96666666666667" y1="299.6" x2="145.96666666666667" y2="301.40000000000003" stroke="#777" stroke-width="0.5" />
<path d="M144.36666666666667,304.20000000000005 h2.2 M146.56666666666666,303.8 l0.8,-1.1" stroke="#666" stroke-width="0.65" fill="none"/>
<line x1="153.39999999999998" y1="299.6" x2="153.39999999999998" y2="301.40000000000003" stroke="#777" stroke-width="0.5" />
<path d="M151.79999999999998,304.20000000000005 h2.2 M153.99999999999997,303.8 l0.8,-1.1" stroke="#666" stroke-width="0.65" fill="none"/>
<line x1="160.83333333333331" y1="299.6" x2="160.83333333333331" y2="301.40000000000003" stroke="#777" stroke-width="0.5" />
<path d="M159.23333333333332,304.20000000000005 h2.2 M161.4333333333333,303.8 l0.8,-1.1" stroke="#666" stroke-width="0.65" fill="none"/>
<line x1="168.26666666666665" y1="299.6" x2="168.26666666666665" y2="301.40000000000003" stroke="#777" stroke-width="0.5" />
<path d="M166.66666666666666,304.20000000000005 h2.2 M168.86666666666665,303.8 l0.8,-1.1" stroke="#666" stroke-width="0.65" fill="none"/>
<line x1="175.7" y1="299.6" x2="175.7" y2="301.40000000000003" stroke="#777" stroke-width="0.5" />
<path d="M174.1,304.20000000000005 h2.2 M176.29999999999998,303.8 l0.8,-1.1" stroke="#666" stroke-width="0.65" fill="none"/>
<rect x="149.95" y="306.20000000000005" width="6.4" height="0.9" fill="#999"/>
<rect x="124.39999999999999" y="276.20000000000005" width="1" height="4.8" fill="#999"/>
<rect x="185.7" y="256.6" width="45.70000000000002" height="44.39999999999998" fill="#fff" stroke="#c4c4c4" stroke-width="1.3"/>
<line x1="184.89999999999998" y1="258.6" x2="186.7" y2="258.6" stroke="#777" stroke-width="0.5" />
<path d="M182.1,257.40000000000003 v2.6 M183.1,258.0 l0.8,0.6 l-0.8,0.8" stroke="#666" stroke-width="0.65" fill="none"/>
<line x1="184.89999999999998" y1="265.58333333333337" x2="186.7" y2="265.58333333333337" stroke="#777" stroke-width="0.5" />
<path d="M182.1,264.3833333333334 v2.6 M183.1,264.98333333333335 l0.8,0.6 l-0.8,0.8" stroke="#666" stroke-width="0.65" fill="none"/>
<line x1="184.89999999999998" y1="272.56666666666666" x2="186.7" y2="272.56666666666666" stroke="#777" stroke-width="0.5" />
<path d="M182.1,271.3666666666667 v2.6 M183.1,271.96666666666664 l0.8,0.6 l-0.8,0.8" stroke="#666" stroke-width="0.65" fill="none"/>
<line x1="184.89999999999998" y1="279.55" x2="186.7" y2="279.55" stroke="#777" stroke-width="0.5" />
<path d="M182.1,278.35 v2.6 M183.1,278.95 l0.8,0.6 l-0.8,0.8" stroke="#666" stroke-width="0.65" fill="none"/>
<line x1="184.89999999999998" y1="286.53333333333336" x2="186.7" y2="286.53333333333336" stroke="#777" stroke-width="0.5" />
<path d="M182.1,285.33333333333337 v2.6 M183.1,285.93333333333334 l0.8,0.6 l-0.8,0.8" stroke="#666" stroke-width="0.65" fill="none"/>
<line x1="184.89999999999998" y1="293.51666666666665" x2="186.7" y2="293.51666666666665" stroke="#777" stroke-width="0.5" />
<path d="M182.1,292.31666666666666 v2.6 M183.1,292.91666666666663 l0.8,0.6 l-0.8,0.8" stroke="#666" stroke-width="0.65" fill="none"/>
<line x1="184.89999999999998" y1="300.5" x2="186.7" y2="300.5" stroke="#777" stroke-width="0.5" />
<path d="M182.1,299.3 v2.6 M183.1,299.9 l0.8,0.6 l-0.8,0.8" stroke="#666" stroke-width="0.65" fill="none"/>
<line x1="186.2" y1="300" x2="186.2" y2="301.8" stroke="#777" stroke-width="0.5" />
<path d="M184.6,304.6 h2.2 M186.79999999999998,304.2 l0.8,-1.1" stroke="#666" stroke-width="0.65" fill="none"/>
<line x1="193.73333333333332" y1="300" x2="193.73333333333332" y2="301.8" stroke="#777" stroke-width="0.5" />
<path d="M192.13333333333333,304.6 h2.2 M194.33333333333331,304.2 l0.8,-1.1" stroke="#666" stroke-width="0.65" fill="none"/>
<line x1="201.26666666666665" y1="300" x2="201.26666666666665" y2="301.8" stroke="#777" stroke-width="0.5" />
<path d="M199.66666666666666,304.6 h2.2 M201.86666666666665,304.2 l0.8,-1.1" stroke="#666" stroke-width="0.65" fill="none"/>
<line x1="208.8" y1="300" x2="208.8" y2="301.8" stroke="#777" stroke-width="0.5" />
<path d="M207.20000000000002,304.6 h2.2 M209.4,304.2 l0.8,-1.1" stroke="#666" stroke-width="0.65" fill="none"/>
<line x1="216.33333333333334" y1="300" x2="216.33333333333334" y2="301.8" stroke="#777" stroke-width="0.5" />
<path d="M214.73333333333335,304.6 h2.2 M216.93333333333334,304.2 l0.8,-1.1" stroke="#666" stroke-width="0.65" fill="none"/>
<line x1="223.86666666666667" y1="300" x2="223.86666666666667" y2="301.8" stroke="#777" stroke-width="0.5" />
<path d="M222.26666666666668,304.6 h2.2 M224.46666666666667,304.2 l0.8,-1.1" stroke="#666" stroke-width="0.65" fill="none"/>
<line x1="231.4" y1="300" x2="231.4" y2="301.8" stroke="#777" stroke-width="0.5" />
<path d="M229.8,304.6 h2.2 M232.0,304.2 l0.8,-1.1" stroke="#666" stroke-width="0.65" fill="none"/>
<rect x="205.35000000000002" y="306.6" width="6.4" height="0.9" fill="#999"/>
<rect x="179.5" y="276.40000000000003" width="1" height="4.8" fill="#999"/>
<rect x="74.3" y="310.3" width="45.8" height="45.89999999999998" fill="#fff" stroke="#c4c4c4" stroke-width="1.3"/>
<line x1="73.5" y1="312.3" x2="75.3" y2="312.3" stroke="#777" stroke-width="0.5" />
<path d="M70.7,311.1 v2.6 M71.7,311.7 l0.8,0.6 l-0.8,0.8" stroke="#666" stroke-width="0.65" fill="none"/>
<line x1="73.5" y1="319.53333333333336" x2="75.3" y2="319.53333333333336" stroke="#777" stroke-width="0.5" />
<path d="M70.7,318.33333333333337 v2.6 M71.7,318.93333333333334 l0.8,0.6 l-0.8,0.8" stroke="#666" stroke-width="0.65" fill="none"/>
<line x1="73.5" y1="326.76666666666665" x2="75.3" y2="326.76666666666665" stroke="#777" stroke-width="0.5" />
<path d="M70.7,325.56666666666666 v2.6 M71.7,326.16666666666663 l0.8,0.6 l-0.8,0.8" stroke="#666" stroke-width="0.65" fill="none"/>
<line x1="73.5" y1="334.0" x2="75.3" y2="334.0" stroke="#777" stroke-width="0.5" />
<path d="M70.7,332.8 v2.6 M71.7,333.4 l0.8,0.6 l-0.8,0.8" stroke="#666" stroke-width="0.65" fill="none"/>
<line x1="73.5" y1="341.23333333333335" x2="75.3" y2="341.23333333333335" stroke="#777" stroke-width="0.5" />
<path d="M70.7,340.03333333333336 v2.6 M71.7,340.6333333333333 l0.8,0.6 l-0.8,0.8" stroke="#666" stroke-width="0.65" fill="none"/>
<line x1="73.5" y1="348.46666666666664" x2="75.3" y2="348.46666666666664" stroke="#777" stroke-width="0.5" />
<path d="M70.7,347.26666666666665 v2.6 M71.7,347.8666666666666 l0.8,0.6 l-0.8,0.8" stroke="#666" stroke-width="0.65" fill="none"/>
<line x1="73.5" y1="355.7" x2="75.3" y2="355.7" stroke="#777" stroke-width="0.5" />
<path d="M70.7,354.5 v2.6 M71.7,355.09999999999997 l0.8,0.6 l-0.8,0.8" stroke="#666" stroke-width="0.65" fill="none"/>
<line x1="74.8" y1="355.2" x2="74.8" y2="357.0" stroke="#777" stroke-width="0.5" />
<path d="M73.2,359.8 h2.2 M75.39999999999999,359.4 l0.8,-1.1" stroke="#666" stroke-width="0.65" fill="none"/>
<line x1="82.35" y1="355.2" x2="82.35" y2="357.0" stroke="#777" stroke-width="0.5" />
<path d="M80.75,359.8 h2.2 M82.94999999999999,359.4 l0.8,-1.1" stroke="#666" stroke-width="0.65" fill="none"/>
<line x1="89.89999999999999" y1="355.2" x2="89.89999999999999" y2="357.0" stroke="#777" stroke-width="0.5" />
<path d="M88.3,359.8 h2.2 M90.49999999999999,359.4 l0.8,-1.1" stroke="#666" stroke-width="0.65" fill="none"/>
<line x1="97.44999999999999" y1="355.2" x2="97.44999999999999" y2="357.0" stroke="#777" stroke-width="0.5" />
<path d="M95.85,359.8 h2.2 M98.04999999999998,359.4 l0.8,-1.1" stroke="#666" stroke-width="0.65" fill="none"/>
<line x1="105.0" y1="355.2" x2="105.0" y2="357.0" stroke="#777" stroke-width="0.5" />
<path d="M103.4,359.8 h2.2 M105.6,359.4 l0.8,-1.1" stroke="#666" stroke-width="0.65" fill="none"/>
<line x1="112.55" y1="355.2" x2="112.55" y2="357.0" stroke="#777" stroke-width="0.5" />
<path d="M110.95,359.8 h2.2 M113.14999999999999,359.4 l0.8,-1.1" stroke="#666" stroke-width="0.65" fill="none"/>
<line x1="120.1" y1="355.2" x2="120.1" y2="357.0" stroke="#777" stroke-width="0.5" />
<path d="M118.5,359.8 h2.2 M120.69999999999999,359.4 l0.8,-1.1" stroke="#666" stroke-width="0.65" fill="none"/>
<rect x="93.99999999999999" y="361.8" width="6.4" height="0.9" fill="#999"/>
<rect x="68.1" y="330.85" width="1" height="4.8" fill="#999"/>
<rect x="128.7" y="310.4" width="46.60000000000002" height="46.10000000000002" fill="#fff" stroke="#c4c4c4" stroke-width="1.3"/>
<line x1="127.89999999999999" y1="312.4" x2="129.7" y2="312.4" stroke="#777" stroke-width="0.5" />
<path d="M125.1,311.2 v2.6 M126.1,311.79999999999995 l0.8,0.6 l-0.8,0.8" stroke="#666" stroke-width="0.65" fill="none"/>
<line x1="127.89999999999999" y1="319.66666666666663" x2="129.7" y2="319.66666666666663" stroke="#777" stroke-width="0.5" />
<path d="M125.1,318.46666666666664 v2.6 M126.1,319.0666666666666 l0.8,0.6 l-0.8,0.8" stroke="#666" stroke-width="0.65" fill="none"/>
<line x1="127.89999999999999" y1="326.93333333333334" x2="129.7" y2="326.93333333333334" stroke="#777" stroke-width="0.5" />
<path d="M125.1,325.73333333333335 v2.6 M126.1,326.3333333333333 l0.8,0.6 l-0.8,0.8" stroke="#666" stroke-width="0.65" fill="none"/>
<line x1="127.89999999999999" y1="334.2" x2="129.7" y2="334.2" stroke="#777" stroke-width="0.5" />
<path d="M125.1,333.0 v2.6 M126.1,333.59999999999997 l0.8,0.6 l-0.8,0.8" stroke="#666" stroke-width="0.65" fill="none"/>
<line x1="127.89999999999999" y1="341.46666666666664" x2="129.7" y2="341.46666666666664" stroke="#777" stroke-width="0.5" />
<path d="M125.1,340.26666666666665 v2.6 M126.1,340.8666666666666 l0.8,0.6 l-0.8,0.8" stroke="#666" stroke-width="0.65" fill="none"/>
<line x1="127.89999999999999" y1="348.73333333333335" x2="129.7" y2="348.73333333333335" stroke="#777" stroke-width="0.5" />
<path d="M125.1,347.53333333333336 v2.6 M126.1,348.1333333333333 l0.8,0.6 l-0.8,0.8" stroke="#666" stroke-width="0.65" fill="none"/>
<line x1="127.89999999999999" y1="356.0" x2="129.7" y2="356.0" stroke="#777" stroke-width="0.5" />
<path d="M125.1,354.8 v2.6 M126.1,355.4 l0.8,0.6 l-0.8,0.8" stroke="#666" stroke-width="0.65" fill="none"/>
<line x1="129.2" y1="355.5" x2="129.2" y2="357.3" stroke="#777" stroke-width="0.5" />
<path d="M127.6,360.1 h2.2 M129.79999999999998,359.7 l0.8,-1.1" stroke="#666" stroke-width="0.65" fill="none"/>
<line x1="136.88333333333333" y1="355.5" x2="136.88333333333333" y2="357.3" stroke="#777" stroke-width="0.5" />
<path d="M135.28333333333333,360.1 h2.2 M137.48333333333332,359.7 l0.8,-1.1" stroke="#666" stroke-width="0.65" fill="none"/>
<line x1="144.56666666666666" y1="355.5" x2="144.56666666666666" y2="357.3" stroke="#777" stroke-width="0.5" />
<path d="M142.96666666666667,360.1 h2.2 M145.16666666666666,359.7 l0.8,-1.1" stroke="#666" stroke-width="0.65" fill="none"/>
<line x1="152.25" y1="355.5" x2="152.25" y2="357.3" stroke="#777" stroke-width="0.5" />
<path d="M150.65,360.1 h2.2 M152.85,359.7 l0.8,-1.1" stroke="#666" stroke-width="0.65" fill="none"/>
<line x1="159.93333333333334" y1="355.5" x2="159.93333333333334" y2="357.3" stroke="#777" stroke-width="0.5" />
<path d="M158.33333333333334,360.1 h2.2 M160.53333333333333,359.7 l0.8,-1.1" stroke="#666" stroke-width="0.65" fill="none"/>
<line x1="167.61666666666667" y1="355.5" x2="167.61666666666667" y2="357.3" stroke="#777" stroke-width="0.5" />
<path d="M166.01666666666668,360.1 h2.2 M168.21666666666667,359.7 l0.8,-1.1" stroke="#666" stroke-width="0.65" fill="none"/>
<line x1="175.3" y1="355.5" x2="175.3" y2="357.3" stroke="#777" stroke-width="0.5" />
<path d="M173.70000000000002,360.1 h2.2 M175.9,359.7 l0.8,-1.1" stroke="#666" stroke-width="0.65" fill="none"/>
<rect x="148.8" y="362.1" width="6.4" height="0.9" fill="#999"/>
<rect x="122.49999999999999" y="331.05" width="1" height="4.8" fill="#999"/>
<rect x="184.6" y="310.8" width="47.70000000000002" height="46.19999999999999" fill="#fff" stroke="#c4c4c4" stroke-width="1.3"/>
<line x1="183.79999999999998" y1="312.8" x2="185.6" y2="312.8" stroke="#777" stroke-width="0.5" />
<path d="M181.0,311.6 v2.6 M182.0,312.2 l0.8,0.6 l-0.8,0.8" stroke="#666" stroke-width="0.65" fill="none"/>
<line x1="183.79999999999998" y1="320.08333333333337" x2="185.6" y2="320.08333333333337" stroke="#777" stroke-width="0.5" />
<path d="M181.0,318.8833333333334 v2.6 M182.0,319.48333333333335 l0.8,0.6 l-0.8,0.8" stroke="#666" stroke-width="0.65" fill="none"/>
<line x1="183.79999999999998" y1="327.3666666666667" x2="185.6" y2="327.3666666666667" stroke="#777" stroke-width="0.5" />
<path d="M181.0,326.1666666666667 v2.6 M182.0,326.76666666666665 l0.8,0.6 l-0.8,0.8" stroke="#666" stroke-width="0.65" fill="none"/>
<line x1="183.79999999999998" y1="334.65" x2="185.6" y2="334.65" stroke="#777" stroke-width="0.5" />
<path d="M181.0,333.45 v2.6 M182.0,334.04999999999995 l0.8,0.6 l-0.8,0.8" stroke="#666" stroke-width="0.65" fill="none"/>
<line x1="183.79999999999998" y1="341.93333333333334" x2="185.6" y2="341.93333333333334" stroke="#777" stroke-width="0.5" />
<path d="M181.0,340.73333333333335 v2.6 M182.0,341.3333333333333 l0.8,0.6 l-0.8,0.8" stroke="#666" stroke-width="0.65" fill="none"/>
<line x1="183.79999999999998" y1="349.2166666666667" x2="185.6" y2="349.2166666666667" stroke="#777" stroke-width="0.5" />
<path d="M181.0,348.0166666666667 v2.6 M182.0,348.6166666666667 l0.8,0.6 l-0.8,0.8" stroke="#666" stroke-width="0.65" fill="none"/>
<line x1="183.79999999999998" y1="356.5" x2="185.6" y2="356.5" stroke="#777" stroke-width="0.5" />
<path d="M181.0,355.3 v2.6 M182.0,355.9 l0.8,0.6 l-0.8,0.8" stroke="#666" stroke-width="0.65" fill="none"/>
<line x1="185.1" y1="356" x2="185.1" y2="357.8" stroke="#777" stroke-width="0.5" />
<path d="M183.5,360.6 h2.2 M185.7,360.2 l0.8,-1.1" stroke="#666" stroke-width="0.65" fill="none"/>
<line x1="192.96666666666667" y1="356" x2="192.96666666666667" y2="357.8" stroke="#777" stroke-width="0.5" />
<path d="M191.36666666666667,360.6 h2.2 M193.56666666666666,360.2 l0.8,-1.1" stroke="#666" stroke-width="0.65" fill="none"/>
<line x1="200.83333333333334" y1="356" x2="200.83333333333334" y2="357.8" stroke="#777" stroke-width="0.5" />
<path d="M199.23333333333335,360.6 h2.2 M201.43333333333334,360.2 l0.8,-1.1" stroke="#666" stroke-width="0.65" fill="none"/>
<line x1="208.7" y1="356" x2="208.7" y2="357.8" stroke="#777" stroke-width="0.5" />
<path d="M207.1,360.6 h2.2 M209.29999999999998,360.2 l0.8,-1.1" stroke="#666" stroke-width="0.65" fill="none"/>
<line x1="216.56666666666666" y1="356" x2="216.56666666666666" y2="357.8" stroke="#777" stroke-width="0.5" />
<path d="M214.96666666666667,360.6 h2.2 M217.16666666666666,360.2 l0.8,-1.1" stroke="#666" stroke-width="0.65" fill="none"/>
<line x1="224.43333333333334" y1="356" x2="224.43333333333334" y2="357.8" stroke="#777" stroke-width="0.5" />
<path d="M222.83333333333334,360.6 h2.2 M225.03333333333333,360.2 l0.8,-1.1" stroke="#666" stroke-width="0.65" fill="none"/>
<line x1="232.3" y1="356" x2="232.3" y2="357.8" stroke="#777" stroke-width="0.5" />
<path d="M230.70000000000002,360.6 h2.2 M232.9,360.2 l0.8,-1.1" stroke="#666" stroke-width="0.65" fill="none"/>
<rect x="205.25" y="362.6" width="6.4" height="0.9" fill="#999"/>
<rect x="178.4" y="331.5" width="1" height="4.8" fill="#999"/>
<defs>
<linearGradient id="gt" x1="0" y1="0" x2="0" y2="1"><stop offset="0" stop-color="#10b050"/><stop offset="0.55" stop-color="#20c070"/><stop offset="1" stop-color="#c8f4e0" stop-opacity="0.3"/></linearGradient>
</defs>
<polygon points="107.8,219.4 108.6,215.4 110.5,212.6 113.7,210.7 117.3,209.3 118.8,209.1 118,211.8 116,215.8 114.5,219.4 113.3,221.7 112.5,217.8 110.1,218.6" fill="#ff1010" stroke="#ff1010" stroke-width="0.5" opacity="1" stroke-linejoin="round"/>
<polygon points="107.6,219.5 109.5,219 108.5,221.5" fill="#9fe8cc" stroke="none" stroke-width="0.6" opacity="0.7" />
<polyline points="110.3,212.2 113.7,210.2 118.9,208.6" fill="none" stroke="#ff8f8f" stroke-width="0.7"/>
<rect x="98" y="214.85" width="6.8" height="1.1" fill="#ff7a7a" opacity="0.85"/>
<rect x="98.6" y="212.0" width="2.2" height="1.2" fill="#ff7a7a" opacity="0.85"/>
<polygon points="162.6,214.6 163.8,213 167,210.3 169.7,209.1 173.7,208.3 174.9,209.5 173.7,211 170.9,213.8 168.2,216.2 167,217 165.4,217 163.4,218.5 162.6,217.8" fill="none" stroke="#ff8f8f" stroke-width="0.75" opacity="1" />
<polygon points="174.9,210.5 173.7,214.2 172.1,218.9 170.9,223.7 170.3,229 169.5,229 169.3,223.7 169.7,221.3 171.5,216" fill="url(#gt)" stroke="url(#gt)" stroke-width="1.1" opacity="1" stroke-linejoin="round"/>
<polygon points="173.9,210.8 172.9,213 171.3,217 169.7,220.9 168.9,221.9 168.8,218.9 170.1,215.4 171.7,212.6" fill="#ff1010" stroke="#ff1010" stroke-width="1.0" opacity="1" stroke-linejoin="round"/>
<line x1="170" y1="228" x2="170.4" y2="234" stroke="#9fe8cc" stroke-width="0.8" />
<rect x="154.6" y="212.64999999999998" width="6.2" height="1.1" fill="#ff7a7a" opacity="0.85"/>
<polygon points="216.8,214.9 223.5,209.3 229.5,208.9 228.7,211.3 226.3,214.1 224.3,217.6 222.8,217.2 220.8,217.6 218,219.6 216.8,218" fill="none" stroke="#ff8f8f" stroke-width="0.75" opacity="1" />
<polygon points="228.9,213.5 227.9,220.8 227.1,228.7 226.5,236 226,244 225.4,244 225.1,235 224.7,226.3 224.3,222.4 226,216" fill="url(#gt)" stroke="url(#gt)" stroke-width="1.1" opacity="1" stroke-linejoin="round"/>
<polygon points="227.7,213.5 226.3,218 224.3,222.4 223.9,220.8 225.1,216.8 226.7,214.9" fill="#ff1010" stroke="#ff1010" stroke-width="1.0" opacity="1" stroke-linejoin="round"/>
<rect x="208.6" y="212.75" width="7" height="1.1" fill="#ff7a7a" opacity="0.85"/>
<polygon points="113,268 116.2,266 119.7,264.3 118.9,267.6 117.3,272.4 115.4,276.7 114.2,275.1 112.6,272.8 112.2,270" fill="#ff1010" stroke="#ff1010" stroke-width="0.5" opacity="1" stroke-linejoin="round"/>
<polyline points="111.8,269 115.5,265.6 119.9,263.8" fill="none" stroke="#ff8f8f" stroke-width="0.7"/>
<polygon points="111.6,276.5 114,275.5 115.6,278.2 112.6,278.5" fill="#9fe8cc" stroke="none" stroke-width="0.6" opacity="0.7" />
<rect x="103.9" y="269.84999999999997" width="5.9" height="1.1" fill="#ff7a7a" opacity="0.85"/>
<polygon points="165.4,268.7 168.2,266.3 173.3,265.1 172.1,269 170.1,274.6 168.9,277 167,275 165.4,272.2" fill="none" stroke="#ff8f8f" stroke-width="0.75" opacity="1" />
<polygon points="173.9,266.5 172.5,273 171.3,278.5 170.9,284 170.3,290 169.7,290 169.3,281.7 168.9,277.7 170.5,272" fill="url(#gt)" stroke="url(#gt)" stroke-width="1.1" opacity="1" stroke-linejoin="round"/>
<polygon points="172.9,266.9 171.7,271.4 170.1,276.5 168.9,277.9 168.5,273.8 169.7,269.8 171.3,267.9" fill="#ff1010" stroke="#ff1010" stroke-width="1.0" opacity="1" stroke-linejoin="round"/>
<rect x="157.1" y="270.84999999999997" width="7" height="1.1" fill="#ff7a7a" opacity="0.85"/>
<polygon points="221.6,268.7 224.3,266.7 229.5,264.7 228.7,268.3 226.7,273 225.1,277 222.8,274.6 221.2,271.4" fill="none" stroke="#ff8f8f" stroke-width="0.75" opacity="1" />
<polygon points="230.1,266.8 228.7,272.2 227.1,279.3 226.3,288 225.9,292 225.3,292 224.9,279.3 224.3,277.3 226,272" fill="url(#gt)" stroke="url(#gt)" stroke-width="1.1" opacity="1" stroke-linejoin="round"/>
<polygon points="228.5,267.7 227.1,272.2 225.5,276.9 224.3,277.5 223.9,273.8 225.1,269.8" fill="#ff1010" stroke="#ff1010" stroke-width="1.0" opacity="1" stroke-linejoin="round"/>
<line x1="218.4" y1="277.7" x2="222" y2="275" stroke="#9fe8cc" stroke-width="0.7" stroke-dasharray="0.8,0.8"/>
<rect x="212.9" y="270.45" width="7" height="1.1" fill="#ff7a7a" opacity="0.85"/>
<polygon points="110.6,325 112.2,321.8 115,319.9 118.5,319.7 118.1,322.6 116.5,327 114.6,329.7 111,331.7 109.8,330.1 109.8,327.4" fill="#ff1010" stroke="#ff1010" stroke-width="0.5" opacity="1" stroke-linejoin="round"/>
<polygon points="110.5,331.5 114.6,329.5 113,333 110.8,336" fill="#9fe8cc" stroke="none" stroke-width="0.6" opacity="0.7" />
<rect x="108.3" y="319.05" width="6.4" height="1.1" fill="#ff7a7a" opacity="0.85"/>
<rect x="108.8" y="316.5" width="2.2" height="1.2" fill="#ff7a7a" opacity="0.85"/>
<polygon points="165.8,323 167.4,320.7 172.9,320.3 172.1,322.6 169,327.4 167.4,331.3 165.4,331.3 164.6,328.2" fill="none" stroke="#ff8f8f" stroke-width="0.75" opacity="1" />
<polygon points="173.9,321.2 172.5,328.2 171.3,333.7 170.7,338.5 170.2,345 169.6,345 169.4,336.8 169,330" fill="url(#gt)" stroke="url(#gt)" stroke-width="1.1" opacity="1" stroke-linejoin="round"/>
<polygon points="172.9,321.6 171.7,325.8 170.5,328.9 169,329.9 169,326.6 170.5,323.8" fill="#ff1010" stroke="#ff1010" stroke-width="1.0" opacity="1" stroke-linejoin="round"/>
<rect x="163.8" y="319.05" width="6.4" height="1.1" fill="#ff7a7a" opacity="0.85"/>
<rect x="164.2" y="316.5" width="2.2" height="1.2" fill="#ff7a7a" opacity="0.85"/>
<polygon points="220.8,324.2 222.4,321.8 225.9,320.3 228.7,321 227.1,325.8 225.2,330.5 222.4,332.5 220.8,331.3 220,328.2" fill="none" stroke="#ff8f8f" stroke-width="0.75" opacity="1" />
<polygon points="230.1,321.2 228.7,328.2 227.5,334.5 226.6,341 226,345 225.4,345 225.2,337.6 224.8,330.8" fill="url(#gt)" stroke="url(#gt)" stroke-width="1.1" opacity="1" stroke-linejoin="round"/>
<polygon points="228.7,322.8 227.5,327.4 225.9,330.5 224.8,330 225.5,325.4 227.1,323.4" fill="#ff1010" stroke="#ff1010" stroke-width="1.0" opacity="1" stroke-linejoin="round"/>
<rect x="222" y="319.34999999999997" width="5.5" height="1.1" fill="#ff7a7a" opacity="0.85"/>
<rect x="219" y="317.7" width="2.2" height="1.2" fill="#ff7a7a" opacity="0.85"/>
<line x1="340.5" y1="210.3" x2="340.5" y2="348.9" stroke="#000" stroke-width="1.5" />
<line x1="339.8" y1="348.3" x2="546.6" y2="348.3" stroke="#000" stroke-width="1.5" stroke-linecap="round"/>
<line x1="334.8" y1="233.9" x2="340.5" y2="233.9" stroke="#000" stroke-width="1.4" />
<text x="333.4" y="237.25" font-size="10" text-anchor="end" font-weight="700" fill="#000" stroke="#000" stroke-width="0.23399999999999999" >1.0</text>
<line x1="334.8" y1="279.7" x2="340.5" y2="279.7" stroke="#000" stroke-width="1.4" />
<text x="333.4" y="283.05" font-size="10" text-anchor="end" font-weight="700" fill="#000" stroke="#000" stroke-width="0.23399999999999999" >0.8</text>
<line x1="334.8" y1="325.8" x2="340.5" y2="325.8" stroke="#000" stroke-width="1.4" />
<text x="333.4" y="329.15000000000003" font-size="10" text-anchor="end" font-weight="700" fill="#000" stroke="#000" stroke-width="0.23399999999999999" >0.6</text>
<line x1="381.4" y1="348.2" x2="381.4" y2="350.8" stroke="#000" stroke-width="1.2" />
<line x1="443.8" y1="348.2" x2="443.8" y2="350.8" stroke="#000" stroke-width="1.2" />
<line x1="504.9" y1="348.2" x2="504.9" y2="350.8" stroke="#000" stroke-width="1.2" />
<text x="383.9" y="361.6" font-size="8.6" text-anchor="middle" font-weight="400" fill="#111" textLength="27" lengthAdjust="spacingAndGlyphs" stroke="#111" stroke-width="0.18" >Control</text>
<text x="445.6" y="361.6" font-size="8.6" text-anchor="middle" font-weight="400" fill="#111" textLength="36.3" lengthAdjust="spacingAndGlyphs" stroke="#111" stroke-width="0.18" >Rotenone</text>
<text x="506.4" y="361.6" font-size="8.6" text-anchor="middle" font-weight="400" fill="#111" textLength="71.6" lengthAdjust="spacingAndGlyphs" stroke="#111" stroke-width="0.18" >Rotenone+MK2206</text>
<g transform="translate(285.2,279.6) rotate(-90)">
<text x="0" y="0" font-size="11" text-anchor="middle" font-weight="400" fill="#111" stroke="#111" stroke-width="0.18" >Mitochondrial menbrane</text>
</g>
<g transform="translate(297.9,279.2) rotate(-90)">
<text x="0" y="0" font-size="11" text-anchor="middle" font-weight="400" fill="#111" stroke="#111" stroke-width="0.18" >potential level</text>
</g>
<g transform="translate(311.6,279.9) rotate(-90)">
<text x="0" y="0" font-size="11" text-anchor="middle" font-weight="400" fill="#111" textLength="86.2" lengthAdjust="spacingAndGlyphs" stroke="#111" stroke-width="0.18" >relative to control</text>
</g>
<path d="M303.2,235.39999999999998 Q308.0,230.2 312.8,235.39999999999998 M303.2,323.9 Q308.0,329.09999999999997 312.8,323.9" fill="none" stroke="#222" stroke-width="1.05"/>
<rect x="477.6" y="211.5" width="50.39999999999998" height="31.400000000000006" fill="none" stroke="#2a2a2a" stroke-width="1.2" stroke-dasharray="1.6,1.8"/>
<circle cx="483.9" cy="216.8" r="1.7" fill="#ff1010"/>
<text x="499.6" y="219.3" font-size="7" text-anchor="start" font-weight="400" fill="#111" stroke="#111" stroke-width="0.18" >WT</text>
<rect x="482.15" y="224.75" width="3.5" height="3.5" fill="#20c828"/>
<text x="499.6" y="229.0" font-size="7" text-anchor="start" font-weight="400" fill="#111" stroke="#111" stroke-width="0.18" >LAR D1</text>
<polygon points="482.4,234.85 485.4,234.85 483.9,237.54999999999998" fill="#1a1aff"/>
<text x="499.6" y="238.7" font-size="7" text-anchor="start" font-weight="400" fill="#111" stroke="#111" stroke-width="0.18" >LAR D2</text>
<rect x="379.8" y="232.1" width="4" height="4" fill="#20c828"/>
<circle cx="381.8" cy="234.1" r="2" fill="#ff1010"/>
<rect x="441.9" y="275.8" width="3.6" height="3.6" fill="#20c828"/>
<polygon points="442.2,280.04999999999995 445.2,280.04999999999995 443.7,282.75" fill="#1a1aff"/>
<line x1="443.7" y1="301.6" x2="443.7" y2="309.5" stroke="#ff1010" stroke-width="0.9" />
<line x1="442" y1="301.6" x2="445.4" y2="301.6" stroke="#ff1010" stroke-width="0.9" />
<line x1="442" y1="309.5" x2="445.4" y2="309.5" stroke="#ff1010" stroke-width="0.9" />
<circle cx="443.7" cy="305.8" r="1.9" fill="#ff1010"/>
<path d="M431.20,276.50h3.5M431.00,278.30h3.5M432.60,275.20L432.00,279.60M434.10,275.20L433.50,279.60M435.40,276.50h3.5M435.20,278.30h3.5M436.80,275.20L436.20,279.60M438.30,275.20L437.70,279.60" stroke="#333" stroke-width="0.95" fill="none"/>
<path d="M431.20,281.20h3.5M431.00,283.00h3.5M432.60,279.90L432.00,284.30M434.10,279.90L433.50,284.30M435.40,281.20h3.5M435.20,283.00h3.5M436.80,279.90L436.20,284.30M438.30,279.90L437.70,284.30" stroke="#333" stroke-width="0.95" fill="none"/>
<path d="M431.20,305.40h3.5M431.00,307.20h3.5M432.60,304.10L432.00,308.50M434.10,304.10L433.50,308.50M435.40,305.40h3.5M435.20,307.20h3.5M436.80,304.10L436.20,308.50M438.30,304.10L437.70,308.50" stroke="#333" stroke-width="0.95" fill="none"/>
<polygon points="450.80,275.60 451.48,276.97 452.99,277.19 451.89,278.26 452.15,279.76 450.80,279.05 449.45,279.76 449.71,278.26 448.61,277.19 450.12,276.97" fill="#111"/>
<polygon points="455.60,275.60 456.28,276.97 457.79,277.19 456.69,278.26 456.95,279.76 455.60,279.05 454.25,279.76 454.51,278.26 453.41,277.19 454.92,276.97" fill="#111"/>
<polygon points="450.80,280.10 451.48,281.47 452.99,281.69 451.89,282.76 452.15,284.26 450.80,283.55 449.45,284.26 449.71,282.76 448.61,281.69 450.12,281.47" fill="#111"/>
<polygon points="455.60,280.10 456.28,281.47 457.79,281.69 456.69,282.76 456.95,284.26 455.60,283.55 454.25,284.26 454.51,282.76 453.41,281.69 454.92,281.47" fill="#111"/>
<rect x="503.2" y="290.5" width="3.6" height="4.3" rx="1" fill="#20c828"/>
<polygon points="503.6,294.74 506.4,294.74 505,297.26" fill="#1a1aff"/>
<text x="494.9" y="292.29999999999995" font-size="7" text-anchor="start" font-weight="400" fill="#444" textLength="6.9" lengthAdjust="spacingAndGlyphs" stroke="#444" stroke-width="0.18" >$$</text>
<text x="494.9" y="298.79999999999995" font-size="7" text-anchor="start" font-weight="400" fill="#444" textLength="6.9" lengthAdjust="spacingAndGlyphs" stroke="#444" stroke-width="0.18" >$$</text>
<polygon points="512.50,288.00 513.18,289.37 514.69,289.59 513.59,290.66 513.85,292.16 512.50,291.45 511.15,292.16 511.41,290.66 510.31,289.59 511.82,289.37" fill="#111"/>
<polygon points="517.30,288.00 517.98,289.37 519.49,289.59 518.39,290.66 518.65,292.16 517.30,291.45 515.95,292.16 516.21,290.66 515.11,289.59 516.62,289.37" fill="#111"/>
<polygon points="512.50,294.50 513.18,295.87 514.69,296.09 513.59,297.16 513.85,298.66 512.50,297.95 511.15,298.66 511.41,297.16 510.31,296.09 511.82,295.87" fill="#111"/>
<polygon points="517.30,294.50 517.98,295.87 519.49,296.09 518.39,297.16 518.65,298.66 517.30,297.95 515.95,298.66 516.21,297.16 515.11,296.09 516.62,295.87" fill="#111"/>
<ellipse cx="505" cy="320.7" rx="1.7" ry="2.2" fill="#ff1010"/>
<text x="495.5" y="323.4" font-size="7" text-anchor="start" font-weight="400" fill="#444" textLength="6.9" lengthAdjust="spacingAndGlyphs" stroke="#444" stroke-width="0.18" >$$</text>
</svg></body></html>
